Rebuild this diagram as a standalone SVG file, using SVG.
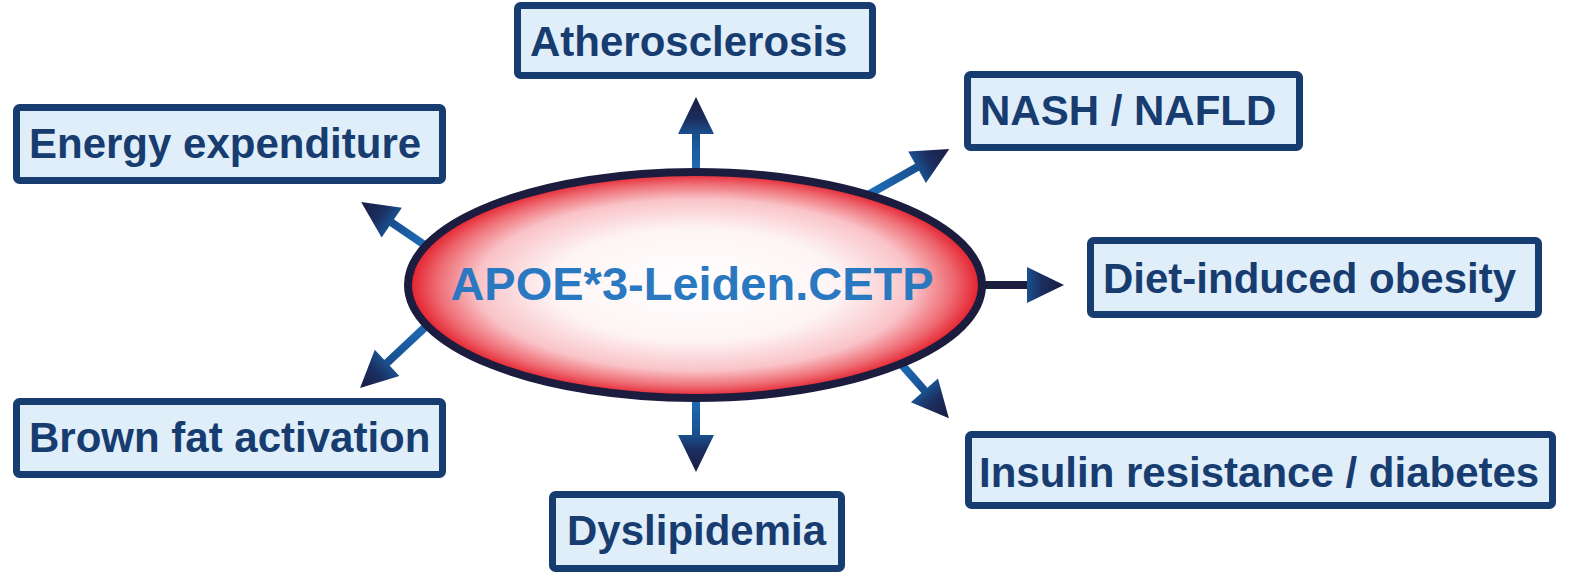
<svg xmlns="http://www.w3.org/2000/svg" width="1570" height="583" viewBox="0 0 1570 583">
  <style>
    .box rect { fill: #e0eefa; stroke: #173c70; stroke-width: 7; }
    .box text { font-family: "Liberation Sans", Arial, sans-serif; font-weight: bold; font-size: 42px; fill: #173c70; }
    .shaft { fill: none; stroke-width: 8; }
  </style>
  <defs>
    <linearGradient id="headGrad" x1="0" y1="0" x2="1" y2="0">
      <stop offset="0" stop-color="#1a508e"/>
      <stop offset="0.4" stop-color="#1b2e60"/>
      <stop offset="1" stop-color="#1b1d3f"/>
    </linearGradient>
    <marker id="head" markerUnits="userSpaceOnUse" markerWidth="40" markerHeight="40" viewBox="0 -20 40 40" refX="6" refY="0" orient="auto" overflow="visible">
      <path d="M0,-18 L37,0 L0,18 Z" fill="url(#headGrad)"/>
    </marker>
    <radialGradient id="ellGrad" cx="0.5" cy="0.5" r="0.5">
      <stop offset="0" stop-color="#ffffff"/>
      <stop offset="0.5" stop-color="#fef4f5"/>
      <stop offset="0.76" stop-color="#f9c3c7"/>
      <stop offset="0.9" stop-color="#ee6a72"/>
      <stop offset="1" stop-color="#e31b28"/>
    </radialGradient>
    <linearGradient id="gUp" gradientUnits="userSpaceOnUse" x1="696" y1="180" x2="696" y2="128">
      <stop offset="0" stop-color="#1f72be"/><stop offset="1" stop-color="#184a8a"/>
    </linearGradient>
    <linearGradient id="gDown" gradientUnits="userSpaceOnUse" x1="696" y1="392" x2="696" y2="440">
      <stop offset="0" stop-color="#1f72be"/><stop offset="1" stop-color="#184a8a"/>
    </linearGradient>
    <linearGradient id="gNash" gradientUnits="userSpaceOnUse" x1="866" y1="196" x2="922" y2="164">
      <stop offset="0" stop-color="#1f72be"/><stop offset="1" stop-color="#184a8a"/>
    </linearGradient>
    <linearGradient id="gEnergy" gradientUnits="userSpaceOnUse" x1="430" y1="248" x2="387" y2="219">
      <stop offset="0" stop-color="#1f72be"/><stop offset="1" stop-color="#184a8a"/>
    </linearGradient>
    <linearGradient id="gBrown" gradientUnits="userSpaceOnUse" x1="435" y1="318" x2="383" y2="367">
      <stop offset="0" stop-color="#1f72be"/><stop offset="1" stop-color="#184a8a"/>
    </linearGradient>
    <linearGradient id="gIns" gradientUnits="userSpaceOnUse" x1="896" y1="358" x2="928" y2="395">
      <stop offset="0" stop-color="#1f72be"/><stop offset="1" stop-color="#184a8a"/>
    </linearGradient>
  </defs>

  <g id="connectors">
    <line class="shaft" x1="696" y1="180" x2="696" y2="128" stroke="url(#gUp)" marker-end="url(#head)"/>
    <line class="shaft" x1="696" y1="392" x2="696" y2="441" stroke="url(#gDown)" marker-end="url(#head)"/>
    <line class="shaft" x1="975" y1="285" x2="1033" y2="285" stroke="#1b1d3f" stroke-width="6" marker-end="url(#head)"/>
    <line class="shaft" x1="866" y1="196" x2="922.3" y2="164.3" stroke="url(#gNash)" stroke-width="7" marker-end="url(#head)"/>
    <line class="shaft" x1="432" y1="250" x2="386.8" y2="219.3" stroke="url(#gEnergy)" stroke-width="7" marker-end="url(#head)"/>
    <line class="shaft" x1="436" y1="317" x2="382.7" y2="366.9" stroke="url(#gBrown)" stroke-width="7" marker-end="url(#head)"/>
    <line class="shaft" x1="895" y1="357" x2="928.4" y2="394.9" stroke="url(#gIns)" stroke-width="7" marker-end="url(#head)"/>
  </g>

  <g id="apoe">
    <ellipse cx="695" cy="285" rx="287" ry="113" fill="url(#ellGrad)" stroke="#1b1c3e" stroke-width="8"/>
    <text x="692" y="300" text-anchor="middle" font-family="Liberation Sans, Arial, sans-serif" font-weight="bold" font-size="47" fill="#2a78c0">APOE*3-Leiden.CETP</text>
  </g>

  <g id="atherosclerosis" class="box">
    <rect x="517.5" y="5.5" width="355" height="70" rx="3"/>
    <text x="530" y="56">Atherosclerosis</text>
  </g>
  <g id="nash" class="box">
    <rect x="967.5" y="74.5" width="332" height="73" rx="3"/>
    <text x="980" y="125">NASH / NAFLD</text>
  </g>
  <g id="energy" class="box">
    <rect x="16.5" y="107.5" width="426" height="73" rx="3"/>
    <text x="29" y="158">Energy expenditure</text>
  </g>
  <g id="diet" class="box">
    <rect x="1090.5" y="240.5" width="448" height="74" rx="3"/>
    <text x="1103" y="293">Diet-induced obesity</text>
  </g>
  <g id="brown" class="box">
    <rect x="16.5" y="401.5" width="426" height="73" rx="3"/>
    <text x="29" y="452">Brown fat activation</text>
  </g>
  <g id="insulin" class="box">
    <rect x="968.5" y="434.5" width="584" height="71" rx="3"/>
    <text x="979" y="487">Insulin resistance / diabetes</text>
  </g>
  <g id="dyslipidemia" class="box">
    <rect x="552.5" y="494.5" width="289" height="74" rx="3"/>
    <text x="567" y="545">Dyslipidemia</text>
  </g>
</svg>
